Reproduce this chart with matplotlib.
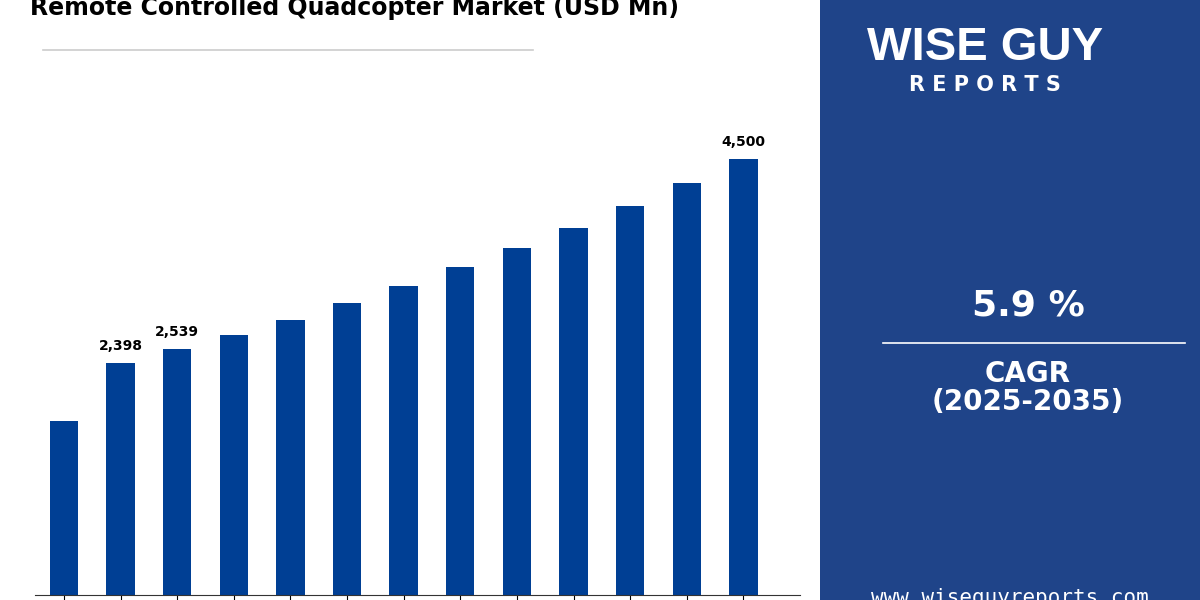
import matplotlib
matplotlib.use("Agg")
import matplotlib.pyplot as plt
from matplotlib.patches import Rectangle
from matplotlib.lines import Line2D

years = ["2023", "2024", "2025", "2026", "2027", "2028", "2029", "2030", "2031", "2032", "2033", "2034", "2035"]
values = [1800, 2398, 2539, 2685, 2840, 3015, 3190, 3385, 3580, 3790, 4015, 4250, 4500]
labeled = {1: "2,398", 2: "2,539", 12: "4,500"}

fig = plt.figure(figsize=(12, 6), dpi=100)
fig.patch.set_facecolor("white")

# right panel
fig.patches.append(Rectangle((820/1200, 0), 380/1200, 1, transform=fig.transFigure,
                             facecolor="#1f4489", edgecolor="none", zorder=0))
fig.text(985/1200, 1-48/600, "WISE GUY", color="white", fontsize=34, ha="center", va="center",
         family="Liberation Sans", fontweight="bold")
fig.text(985/1200, 1-85/600, "R E P O R T S", color="white", fontsize=15, ha="center", va="center",
         fontweight="bold")
fig.text(1028/1200, 1-305/600, "5.9 %", color="white", fontsize=26, fontweight="bold", ha="center", va="center")
fig.lines.append(Line2D([883/1200, 1185/1200], [1-343/600]*2, transform=fig.transFigure, color="white", lw=1.2))
fig.text(1028/1200, 1-388/600, "CAGR\n(2025-2035)", color="white", fontsize=20, fontweight="bold",
         ha="center", va="center", linespacing=1.0)
fig.text(1010/1200, 1-598/600, "www.wiseguyreports.com", color="white", fontsize=15, ha="center",
         va="center", family="DejaVu Sans Mono")

# title
fig.text(30/1200, 1-8/600, "Remote Controlled Quadcopter Market (USD Mn)", fontsize=17, fontweight="bold",
         ha="left", va="center")
fig.lines.append(Line2D([43/1200, 533/1200], [1-50/600]*2, transform=fig.transFigure, color="#cccccc", lw=1.2))

ax = fig.add_axes([35/1200, 5/600, 765/1200, 495/600])
x = list(range(len(values)))
ax.bar(x, values, width=0.5, color="#003f94", zorder=2)
for i, t in labeled.items():
    ax.text(i, values[i] + 100, t, ha="center", va="bottom", fontsize=10, fontweight="bold")
ax.set_xlim(-0.51, 13.0)
ax.set_ylim(0, 495/0.09689)
ax.set_xticks(x)
ax.set_xticklabels(years)
ax.set_yticks([])
for s in ["top", "right", "left"]:
    ax.spines[s].set_visible(False)
ax.spines["bottom"].set_color("#333333")
ax.set_facecolor("none")

fig.savefig("out.png", dpi=100)
